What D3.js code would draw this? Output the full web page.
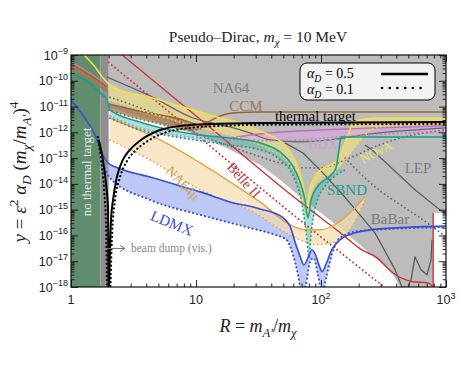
<!DOCTYPE html>
<html><head><meta charset="utf-8">
<script src="https://cdn.jsdelivr.net/npm/d3@7/dist/d3.min.js"></script>
<style>html,body{margin:0;padding:0;background:#fff}svg{display:block}text{white-space:pre}</style>
</head><body>
<svg id="chart" width="474" height="366"></svg>
<script>
// ---------------- data (R = m_A'/m_chi , y) ----------------
const xTickValues=[1,10,100,1000];
const xTickExps=[0,1,2,3];
const yTickValues=[1e-18,1e-17,1e-16,1e-15,1e-14,1e-13,1e-12,1e-11,1e-10,1e-9];
const yTickExps=[-18,-17,-16,-15,-14,-13,-12,-11,-10,-9];

const noThermalR=[1,1.72];
const beamDumpR=[1.72,2.0];

const grayR=[2.0,2.05,3.56,6.19,10.8,18.7,32.5,47,67.9,118,205,296,377,429,787,790,1000];
const grayY=[8.9e-12,8.9e-12,4.0e-12,1.78e-12,7.2e-13,2.1e-13,5.5e-14,1.45e-14,3.2e-15,4.0e-16,4.4e-17,9.5e-18,3.0e-18,1e-18,1e-18,7.6e-16,7.6e-16];

const na64R=[1.94,2.96,4.29,9.46,18.7,27,39.1,67.9,118,247,1000];
const na64Y=[1.4e-10,5.8e-11,2.6e-11,3.6e-12,1.62e-12,9.5e-13,5.1e-13,4.3e-13,5.1e-13,8.7e-13,1.48e-12];
const na64DotR=[2.05,5.15,10.8,22.5,47,67.9,98.2,156,281,429,1000];
const na64DotY=[2.3e-11,4.4e-12,7.9e-13,2.1e-13,6.5e-14,4.2e-14,4.2e-14,8.5e-14,3.0e-13,6.0e-13,1.23e-12];

const lepR=[225,256,565,1000];
const lepY=[3.2e-13,2.1e-13,5.9e-15,6.3e-16];
const lepDotR=[156,233,705,1000];
const lepDotY=[1.0e-13,1.45e-14,3.1e-16,8.8e-17];

const babarR=[51.5,71.8,98.2,150,205,270,337,391,445,470,497,525,565,631,705,759,773];
const babarY=[3.9e-13,1.58e-13,3.5e-14,3.7e-15,6.3e-16,1.26e-16,1.78e-17,4.7e-18,1e-18,7e-19,1e-18,1.9e-18,1.48e-17,4.7e-18,3.0e-18,1.12e-17,6.8e-17];

const belleR=[2.57,4.29,10.8,68,150,205,281,377,545,718,790];
const belleY=[1e-9,1.29e-10,3.2e-12,2.0e-15,1.05e-16,3.1e-17,1.35e-17,3.5e-18,1.6e-18,1.45e-18,1.0e-18];
const belleDotR=[2.0,4.29,68,320];
const belleDotY=[5.1e-10,2.5e-11,3.9e-16,1e-18];
const belleSpikeR=[790,790];
const belleSpikeY=[1e-18,7.6e-16];

const ldmxR=[1,1.29,1.56,1.80,1.98,2.25,2.96,4.29,7.45,10.8,18.7,32.5,50,56.5,63,67.9,73.1,78.7,84.7,91.2,98.2,102,110,122,142,187,296,1000];
const ldmxY=[1.8e-11,3.6e-12,7.9e-13,1.32e-13,6.5e-14,4.6e-14,2.9e-14,1.86e-14,8.3e-15,4.9e-15,2.0e-15,1.07e-15,4.8e-16,2.3e-16,4.4e-17,1.6e-17,7.2e-18,1.35e-17,2.8e-17,1.6e-17,5.5e-18,3.9e-18,8e-18,2.8e-17,6.8e-17,1.26e-16,1.8e-16,2.3e-16];
const ldmxDotR=[1.87,2.05,4.29,10.8,27,43,53,59.7,65.5,70.5,75.9,81.7,87.5,94.6,102,110,122,142,205,1000];
const ldmxDotY=[4.2e-14,1.7e-14,2.4e-15,6.3e-16,1.95e-16,1.05e-16,6.8e-17,1.78e-17,3.0e-18,5e-19,1.3e-18,9.5e-18,1.35e-17,3.0e-18,6e-19,2.3e-18,1.78e-17,8.1e-17,1.5e-16,2.1e-16];

const na64muR=[2.05,4.29,6.19,10.8,18.7,32.5,56.5,74.5,98.2,129,171,225];
const na64muY=[3.6e-12,7.9e-13,3.2e-13,6.5e-14,1.2e-14,2.0e-15,2.6e-16,1.66e-16,1.66e-16,2.6e-16,7.6e-16,3.2e-15];
const na64muDotR=[2.05,4.29,10.8,28.6,56.5,92.9,129,171,225];
const na64muDotY=[5.1e-13,8.5e-14,5.9e-15,8.1e-16,1.05e-16,4.4e-17,5.6e-17,1.66e-16,2.4e-15];

const novaR=[1.27,1.56,1.80,1.98,2.47,4.29,7.45,12.9,22.5,35.5,51.5,64.3,71.8,77.3,81.7,91.2,110,132,148,168,184,296,1000];
const novaY=[1e-9,3.4e-10,1.3e-10,8.1e-11,4.4e-11,2.3e-11,1.05e-11,4.7e-12,2.3e-12,9.5e-13,3.0e-13,5.5e-14,9.1e-15,1.55e-15,6.9e-15,2.2e-14,4.6e-14,7.1e-14,2.1e-13,1.05e-12,2.8e-12,3.6e-12,3.6e-12];
const novaDotR=[2.01,4.29,10.8,22.5,39.1,56.5,67.9,75.9,84.7,102,129,156,187,225,296,1000];
const novaDotY=[1.8e-11,5.6e-12,1.48e-12,6.0e-13,2.1e-13,5.5e-14,9.1e-15,6.3e-16,4.9e-15,1.7e-14,2.9e-14,8.5e-14,2.5e-13,7.9e-13,1.62e-12,2.1e-12];

const sbndR=[1,1.29,1.71,1.94,2.05,3.56,6.19,10.8,18.7,32.5,47,58.6,67.9,74.5,78.7,83.2,94.6,118,132,139,145,1000];
const sbndY=[2.0e-10,1.07e-10,3.4e-11,1.8e-11,7.4e-12,2.5e-12,1.23e-12,7.9e-13,6.0e-13,3.9e-13,1.74e-13,5.5e-14,1.2e-14,2.4e-15,4.8e-16,2.4e-15,8.3e-15,2.0e-14,4.2e-14,2.1e-13,6.6e-13,6.6e-13];
const sbndDotR=[2.05,3.56,6.19,10.8,18.7,32.5,47,61.9,71.8,77.3,80.2,83.2,91.2,108,129,156];
const sbndDotY=[3.6e-12,1.23e-12,7.2e-13,4.7e-13,3.2e-13,2.1e-13,8.5e-14,1.45e-14,9.8e-16,6.8e-17,1.35e-17,1.05e-16,1.55e-15,8.3e-15,2.0e-14,3.5e-14];

const bdxLeftR=[1,1.29,1.71,1.94];
const bdxLeftY=[5.4e-10,2.6e-10,1.07e-10,6.9e-11];
const bdxR=[19.4,27,39.1,98.2,247,1000];
const bdxY=[6.0e-13,7.9e-13,9.5e-13,1.23e-12,1.48e-12,1.78e-12];
const bdxDotR=[2.05,3.56,6.19,10.8,18.7,39.1,71.8,171,1000];
const bdxDotY=[4.4e-12,1.48e-12,8.7e-13,6.0e-13,5.1e-13,4.7e-13,5.1e-13,7.2e-13,1.05e-12];

const ccmLeftUpR=[1,1.29,1.80,1.94];
const ccmLeftUpY=[4.5e-10,2.2e-10,7.6e-11,5.8e-11];
const ccmLeftLoR=[1,1.29,1.80,1.94];
const ccmLeftLoY=[2.4e-10,1.3e-10,4.4e-11,3.4e-11];
const ccmUpR=[2.01,3.25,5.15,7.45,9.3,10.8,12.5,15,19.4,32.5,1000];
const ccmUpY=[1.26e-11,7.4e-12,4.7e-12,3.3e-12,2.3e-12,1.95e-12,2.5e-12,4.0e-12,5.6e-12,6.2e-12,6.2e-12];
const ccmLoR=[2.01,3.25,5.15,7.45,9.8,11.8];
const ccmLoY=[7.4e-12,3.6e-12,2.1e-12,1.35e-12,1.23e-12,1.62e-12];

const thermR=[1.67,1.80,1.91,1.98,1.99,2.0,2.05,2.09,2.17,2.33,2.6,2.96,3.56,5.15,7.45,12.9,32.5,1000];
const thermY=[5.1e-13,8.5e-14,9.1e-15,9.8e-16,1.12e-17,3e-19,2.8e-17,4.0e-16,2.4e-15,1.86e-14,8.5e-14,2.1e-13,4.7e-13,1.23e-12,1.78e-12,2.1e-12,2.3e-12,2.5e-12];
const thermDotR=[1.64,1.74,1.84,1.91,1.94,1.96,2.04,2.07,2.11,2.16,2.25,2.47,2.81,3.25,3.9,5.6,8.95,15.6,32.5,1000];
const thermDotY=[6.6e-13,8.5e-14,5.9e-15,1.66e-16,1e-18,3e-19,3e-19,1e-18,2.8e-17,3.4e-16,2.4e-15,1.86e-14,7.8e-14,1.9e-13,3.9e-13,9.5e-13,1.48e-12,1.78e-12,1.95e-12,2.1e-12];

// ---------------- drawing ----------------
const svg=d3.select("#chart");
const L=71,R=446,T=55,B=287;
const X=d3.scaleLog().domain([1,1000]).range([L,R]);
const Y=d3.scaleLog().domain([1e-18,1e-9]).range([B,T]);
const zip=(a,b)=>a.map((v,i)=>[v,b[i]]);
const smooth=d3.line().x(d=>X(d[0])).y(d=>Y(d[1])).curve(d3.curveMonotoneX);
const straight=d3.line().x(d=>X(d[0])).y(d=>Y(d[1]));
function band(u,l,gen=smooth){const a=gen(u),b=gen(l.slice().reverse());return a+"L"+b.slice(1)+"Z";}
const SERIF="'Liberation Serif','Times New Roman',serif";
const SANS="'Liberation Sans',Arial,sans-serif";

svg.append("defs").append("clipPath").attr("id","clip").append("rect")
  .attr("x",L).attr("y",T).attr("width",R-L).attr("height",B-T);
const plot=svg.append("g").attr("clip-path","url(#clip)");

// excluded gray region
const yTop=Y.domain()[1];
plot.append("path").attr("d",straight([[grayR[0],yTop],[1000,yTop]].concat(zip(grayR,grayY).reverse()))+"Z").attr("fill","#bcbcbc");
// no thermal target & beam dump strip
plot.append("rect").attr("x",X(noThermalR[0])).attr("y",T).attr("width",X(noThermalR[1])-X(noThermalR[0])).attr("height",B-T).attr("fill","#5f8d6d");
plot.append("rect").attr("x",X(beamDumpR[0])).attr("y",T).attr("width",X(beamDumpR[1])-X(beamDumpR[0])).attr("height",B-T).attr("fill","#8f8f8f");

function fill(d,c,o){plot.append("path").attr("d",d).attr("fill",c).attr("fill-opacity",o).attr("stroke","none");}
function draw(pts,c,w,dotted,gen=smooth){
  plot.append("path").attr("d",gen(pts)).attr("fill","none").attr("stroke",c).attr("stroke-width",w)
   .attr("stroke-linecap",dotted?"round":"butt").attr("stroke-linejoin","round")
   .attr("stroke-dasharray",dotted?"0.1 4":null);
}

// band fills
fill(band(zip(ldmxR,ldmxY).filter(d=>d[0]>=1.98),zip(ldmxDotR,ldmxDotY)),"#9aaaf0",0.65);
fill(band(zip(na64muR,na64muY),zip(na64muDotR,na64muDotY)),"#f6dcae",0.7);
fill(band(zip(novaR,novaY).filter(d=>d[0]>=1.98),zip(novaDotR,novaDotY)),"#f5e47e",0.6);
fill(band(zip(sbndR,sbndY).filter(d=>d[0]>=2.05&&d[0]<=132),zip(sbndDotR,sbndDotY)),"#4fb9a6",0.45);
fill(band(zip(bdxR,bdxY),zip(bdxDotR,bdxDotY).filter(d=>d[0]>=18.7)),"#d9a3df",0.6);
fill(band(zip(ccmUpR,ccmUpY).filter(d=>d[0]<=12.5),zip(ccmLoR,ccmLoY)),"#a47a50",0.75);
fill(band(zip(ccmLeftUpR,ccmLeftUpY),zip(ccmLeftLoR,ccmLeftLoY)),"#a47a50",0.75);

// lines
draw(zip(na64R,na64Y),"#686868",1.3,false);
draw(zip(na64DotR,na64DotY),"#6a6a6a",1.8,true);
draw(zip(lepR,lepY),"#606060",1.3,false,straight);
draw(zip(lepDotR,lepDotY),"#6a6a6a",1.8,true);
draw(zip(babarR,babarY),"#5a5a5a",1.3,false,straight);
draw(zip(belleR,belleY),"#cf3434",1.4,false);
draw(zip(belleDotR,belleDotY),"#cf3434",1.9,true);
draw(zip(belleSpikeR,belleSpikeY),"#cf3434",1.4,false,straight);
draw(zip(na64muR,na64muY),"#e3a443",1.4,false);
draw(zip(na64muDotR,na64muDotY),"#d8b06a",1.8,true);
draw(zip(bdxLeftR,bdxLeftY),"#d07aa8",1.4,false);
draw(zip(bdxR,bdxY),"#bd6cc8",1.4,false);
draw(zip(bdxDotR,bdxDotY),"#c87ccc",1.8,true);
draw(zip(ccmLeftUpR,ccmLeftUpY),"#956537",1.3,false);
draw(zip(ccmUpR,ccmUpY),"#956537",1.5,false);
draw(zip(ccmLoR,ccmLoY),"#956537",1.8,true);
draw(zip(novaR,novaY),"#f2df4a",1.6,false);
draw(zip(novaDotR,novaDotY),"#eed84a",1.9,true);
draw(zip(sbndR,sbndY),"#16a08d",1.6,false);
draw(zip(sbndDotR,sbndDotY),"#16a08d",1.9,true);
draw(zip(ldmxR,ldmxY),"#3a4fd6",1.6,false);
draw(zip(ldmxDotR,ldmxDotY),"#3a4fd6",2.1,true);
draw(zip(thermR,thermY),"#000",2,false);
draw(zip(thermDotR,thermDotY),"#000",2.2,true);

// ---------------- labels ----------------
function lab(t,x,y,c,fs,rot=0,anchor="middle"){
  svg.append("text").attr("transform",`translate(${x},${y}) rotate(${rot})`).attr("text-anchor",anchor)
   .attr("dy",anchor==="middle"?"0.35em":null).attr("font-family",SERIF).attr("font-size",fs).attr("fill",c).text(t);
}
lab("NA64",231,88,"#808080",15);
lab("CCM",246,106,"#a27a52",15);
lab("thermal target",275,121,"#000",14.5,0,"start");
lab("BDX",323,144,"#c9a2d4",14);
lab("NOνA",376,152,"#f3e46a",13,-27);
lab("SBND",347,190,"#23a08f",15);
lab("LEP",418,168,"#7b7b7b",15);
lab("BaBar",390,219,"#7b7b7b",15);
lab("LDMX",172,223,"#3b50d6",15,22);
lab("NA64μ",183,183,"#cda35a",14,45);
lab("Belle II",244,180,"#c93434",14,48);
lab("no thermal target",86,172,"#e8eee8",13,-90);
lab("beam dump (vis.)",131,252,"#888",11.5,0,"start");
svg.append("line").attr("x1",107).attr("y1",248.5).attr("x2",124).attr("y2",248.5).attr("stroke","#777").attr("stroke-width",1);
svg.append("path").attr("d","M120,245.5 L125,248.5 L120,251.5").attr("fill","none").attr("stroke","#777").attr("stroke-width",1);

// rich math text
function rich(sel,parts,base){
  let shift=0;
  parts.forEach(([t,k])=>{
    const ts=sel.append("tspan").text(t);
    let target=0,fs=base;
    if(k.includes("b")){target=0.25*base;fs=0.7*base;}
    if(k.includes("p")){target=-0.4*base;fs=0.7*base;}
    ts.attr("dy",target-shift).attr("font-size",fs);
    if(k.includes("i")) ts.attr("font-style","italic");
    shift=target;
  });
}
// title
const title=svg.append("text").attr("x",258).attr("y",42).attr("text-anchor","middle").attr("font-family",SERIF).attr("fill","#222");
rich(title,[["Pseudo–Dirac, ",""],["m","i"],["χ","ib"],[" = 10 MeV",""]],15.5);
// x label
const xl=svg.append("text").attr("x",258).attr("y",332).attr("text-anchor","middle").attr("font-family",SERIF).attr("fill","#222");
rich(xl,[["R","i"],[" = ",""],["m","i"],["A′","ib"],["/",""],["m","i"],["χ","ib"]],18);
// y label
const yl=svg.append("text").attr("transform","translate(26,172) rotate(-90)").attr("text-anchor","middle").attr("font-family",SERIF).attr("fill","#222");
rich(yl,[["y","i"],[" = ",""],["ε","i"],["2","p"],[" ",""],["α","i"],["D","ib"],[" (",""],["m","i"],["χ","ib"],["/",""],["m","i"],["A′","ib"],[")",""],["4","p"]],19);

// legend
svg.append("rect").attr("x",300).attr("y",63).attr("width",135).attr("height",37).attr("rx",7).attr("fill","#f3f3f3").attr("stroke","#000").attr("stroke-width",1);
const lg1=svg.append("text").attr("x",307).attr("y",78).attr("font-family",SERIF);
rich(lg1,[["α","i"],["D","ib"],[" = 0.5",""]],14);
const lg2=svg.append("text").attr("x",307).attr("y",94).attr("font-family",SERIF);
rich(lg2,[["α","i"],["D","ib"],[" = 0.1",""]],14);
svg.append("line").attr("x1",381).attr("x2",428).attr("y1",74).attr("y2",74).attr("stroke","#000").attr("stroke-width",2.5);
svg.append("line").attr("x1",382).attr("x2",428).attr("y1",88).attr("y2",88).attr("stroke","#000").attr("stroke-width",2.6).attr("stroke-linecap","round").attr("stroke-dasharray","0.1 7.6");

// ---------------- axes ----------------
const xMinor=[],yMinor=[];
xTickValues.slice(0,-1).forEach(v=>{for(let m=2;m<=9;m++)xMinor.push(v*m);});
yTickValues.slice(0,-1).forEach(v=>{for(let m=2;m<=9;m++)yMinor.push(v*m);});
function ax(gen,vals,size,tx,ty){
  svg.append("g").attr("transform",`translate(${tx},${ty})`)
   .call(gen.tickValues(vals).tickSize(size).tickFormat(""))
   .call(g=>g.select(".domain").remove())
   .call(g=>g.selectAll("line").attr("stroke","#111").attr("stroke-width",0.9));
}
ax(d3.axisBottom(X),xTickValues,-7,0,B); ax(d3.axisBottom(X),xMinor,-3.5,0,B);
ax(d3.axisTop(X),xTickValues,-7,0,T); ax(d3.axisTop(X),xMinor,-3.5,0,T);
ax(d3.axisLeft(Y),yTickValues,-7,L,0); ax(d3.axisLeft(Y),yMinor,-3.5,L,0);
ax(d3.axisRight(Y),yTickValues,-7,R,0); ax(d3.axisRight(Y),yMinor,-3.5,R,0);
svg.append("rect").attr("x",L).attr("y",T).attr("width",R-L).attr("height",B-T).attr("fill","none").attr("stroke","#111").attr("stroke-width",1.2);

yTickValues.forEach((v,i)=>{
  const t=svg.append("text").attr("x",68).attr("y",Y(v)+4.5).attr("text-anchor","end").attr("font-family",SANS).attr("fill","#222");
  t.append("tspan").attr("font-size",12.5).text("10");
  t.append("tspan").attr("font-size",9).attr("dy",-5.5).text("−"+Math.abs(yTickExps[i]));
});
xTickValues.forEach((v,i)=>{
  const t=svg.append("text").attr("x",X(v)).attr("y",304).attr("text-anchor","middle").attr("font-family",SANS).attr("fill","#222");
  const e=xTickExps[i];
  if(e===0) t.append("tspan").attr("font-size",12.5).text("1");
  else if(e===1) t.append("tspan").attr("font-size",12.5).text("10");
  else {t.append("tspan").attr("font-size",12.5).text("10");t.append("tspan").attr("font-size",9).attr("dy",-5.5).text(String(e));}
});
</script>
</body></html>
